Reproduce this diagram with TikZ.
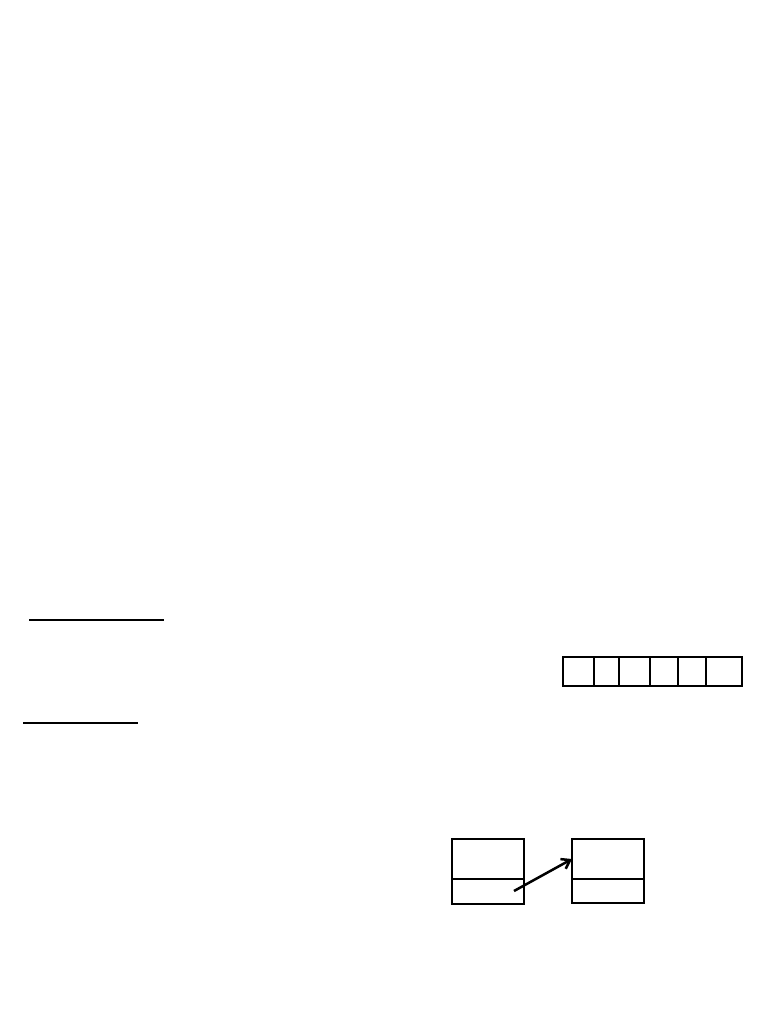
\documentclass[tikz,border=0pt]{standalone}
\usetikzlibrary{arrows.meta}
\begin{document}
\begin{tikzpicture}[x=1pt,y=-1pt,
  cell/.style={draw,line width=2.5pt,minimum height=29pt,inner sep=0pt,outer sep=0pt,anchor=north west},
  part/.style={draw,line width=2.3pt,minimum width=72pt,inner sep=0pt,outer sep=0pt,anchor=north west},
  rule/.style={line width=2.3pt},
  link/.style={line width=2.5pt,-{Straight Barb[length=8pt,width=11pt]}}]
\useasboundingbox (0,0) rectangle (768,1024);
% horizontal rules
\coordinate (r1a) at (29,620); \coordinate (r1b) at (164,620);
\coordinate (r2a) at (23,723); \coordinate (r2b) at (138,723);
\draw[rule] (r1a) -- (r1b);
\draw[rule] (r2a) -- (r2b);
% array
\node[cell,minimum width=31pt] (c1) at (563,657) {};
\node[cell,minimum width=25pt] (c2) at (594,657) {};
\node[cell,minimum width=31pt] (c3) at (619,657) {};
\node[cell,minimum width=28pt] (c4) at (650,657) {};
\node[cell,minimum width=28pt] (c5) at (678,657) {};
\node[cell,minimum width=36pt] (c6) at (706,657) {};
% linked boxes
\node[part,minimum height=40pt] (ltop) at (452,839) {};
\node[part,minimum height=25pt] (lbot) at (452,879) {};
\node[part,minimum height=40pt] (rtop) at (572,839) {};
\node[part,minimum height=24pt] (rbot) at (572,879) {};
\coordinate (lp) at (514,891);
\draw[link] (lp) -- (rtop.west);
\end{tikzpicture}
\end{document}
